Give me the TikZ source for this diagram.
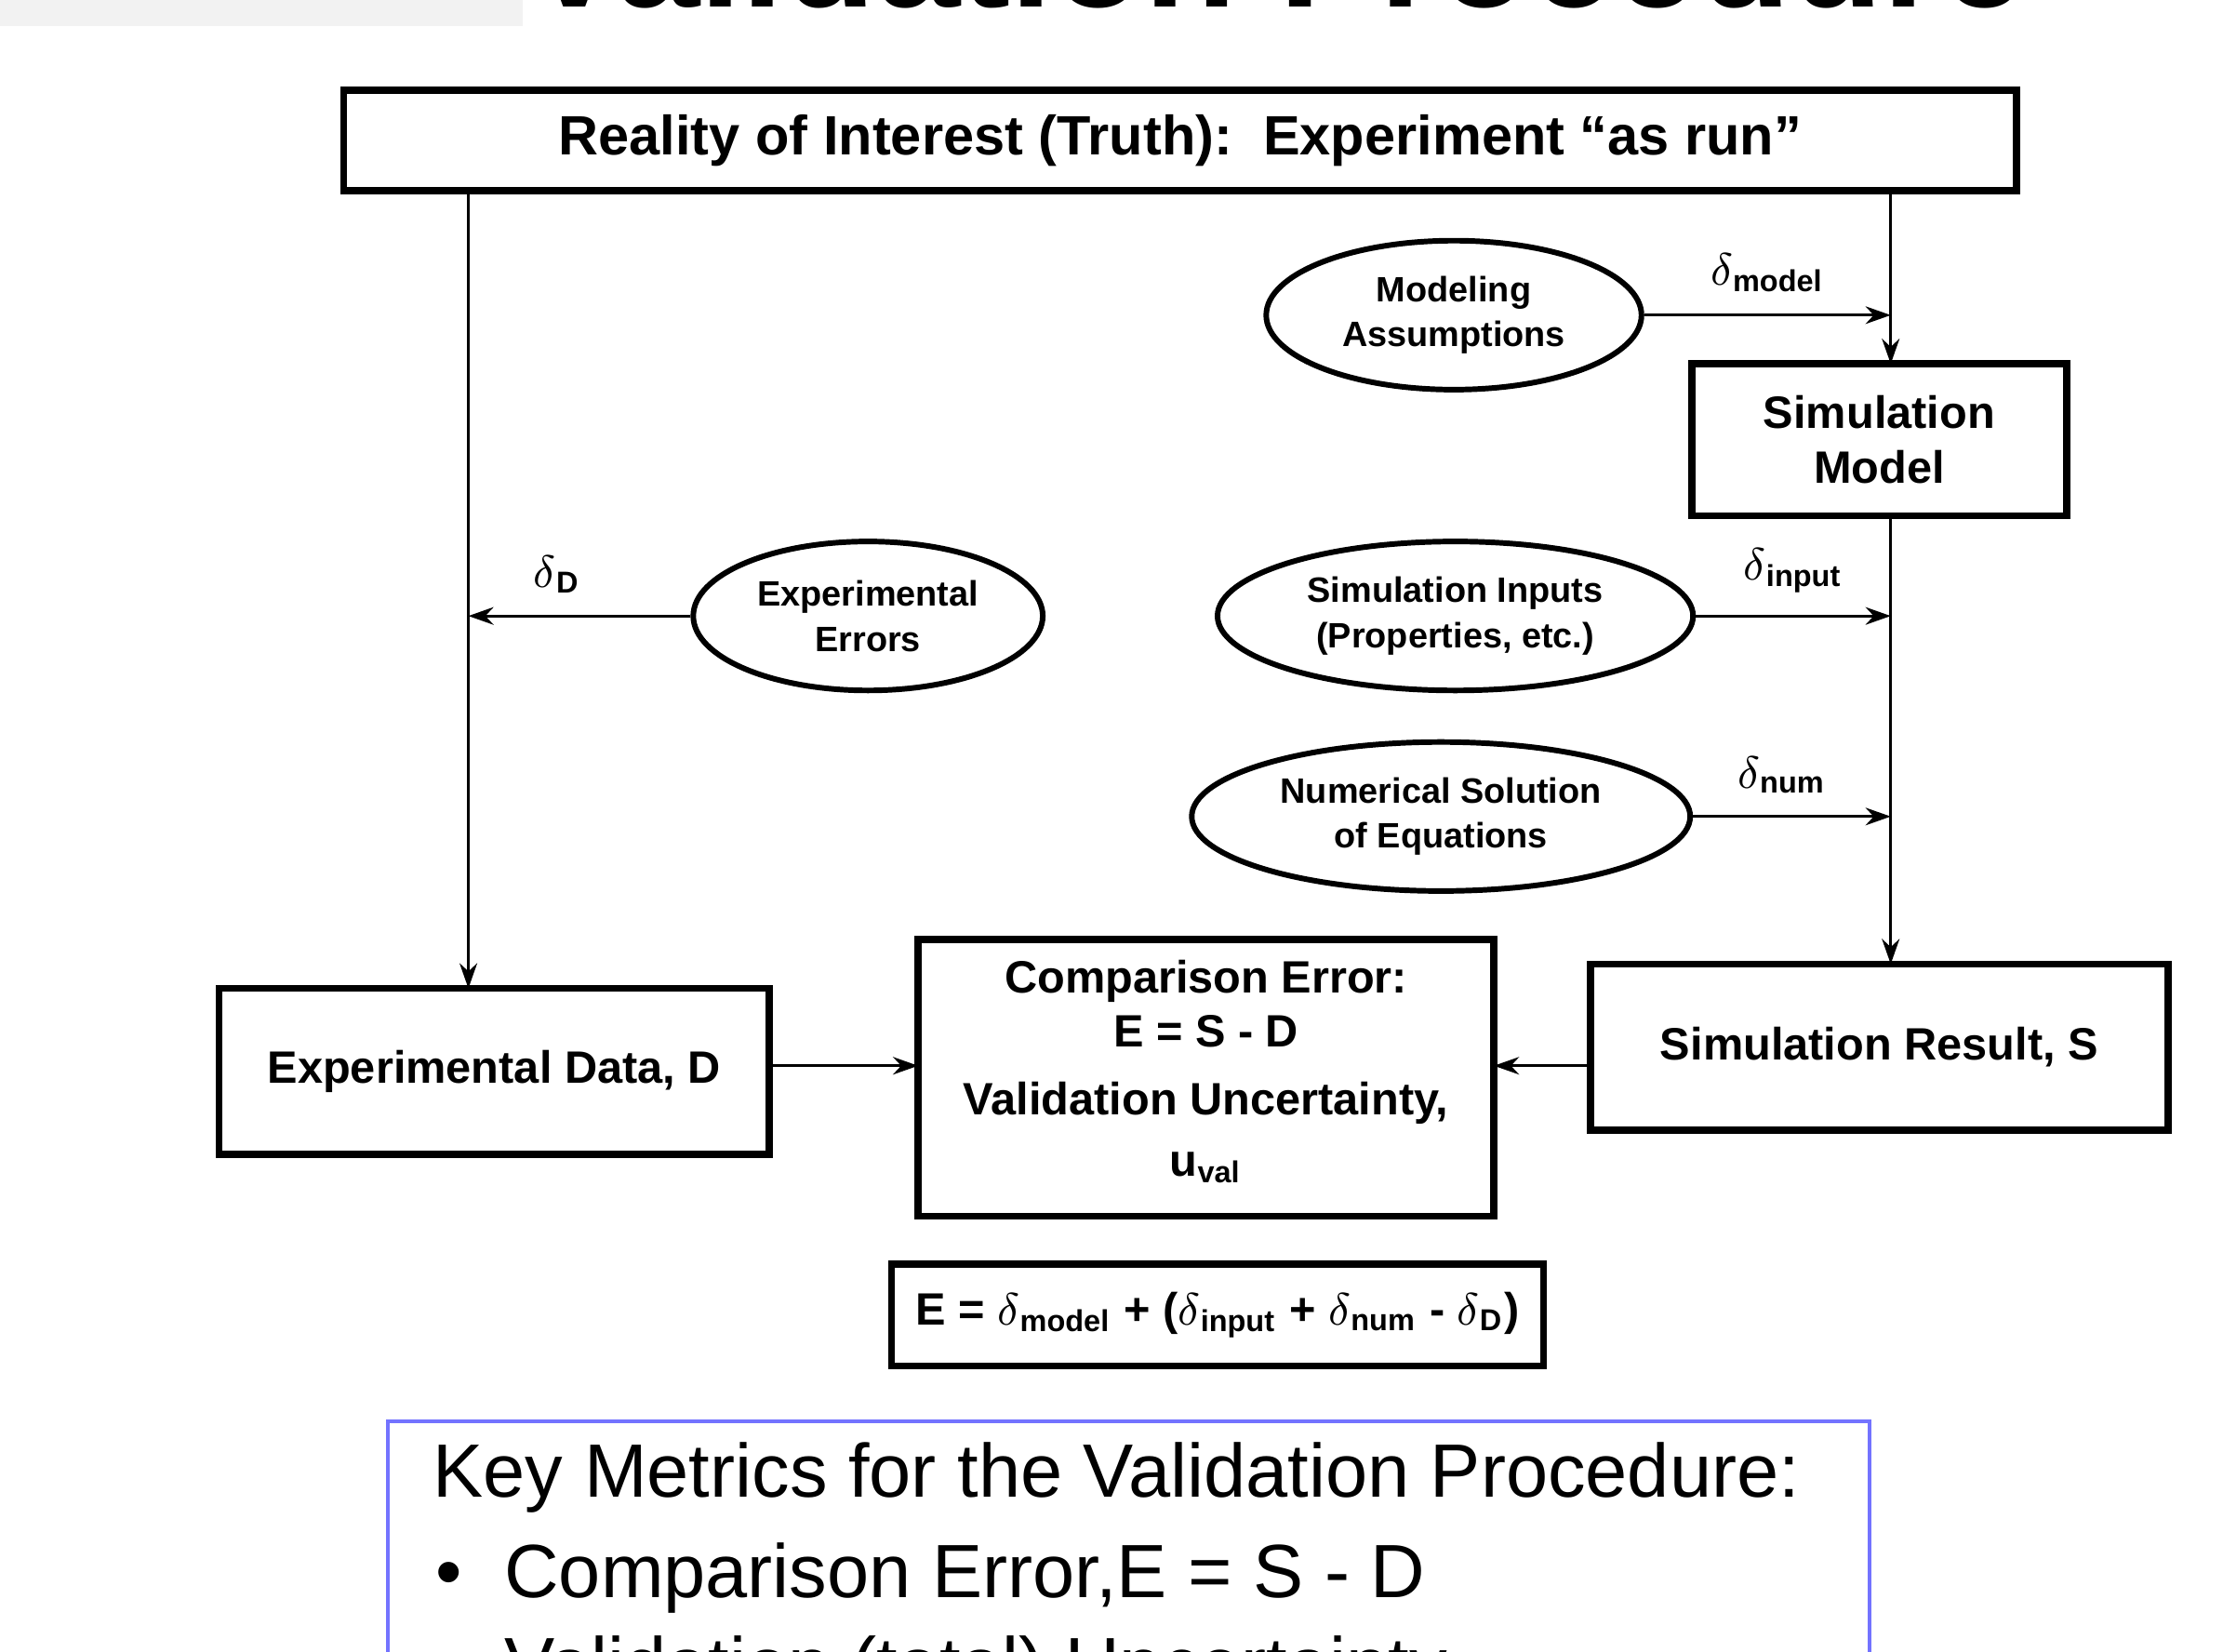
\documentclass[tikz,border=0pt]{standalone}
\usepackage{fontspec}
\setmainfont{Liberation Sans}
\usetikzlibrary{shapes.geometric,arrows.meta}
\begin{document}
\begin{tikzpicture}[x=0.1mm,y=-0.1mm,
 box/.style={draw,line width=1.4pt,inner sep=0pt,font=\bfseries\fontsize{9}{11}\selectfont,align=center},
 ell/.style={draw,ellipse,line width=1.1pt,inner sep=0pt,font=\bfseries\fontsize{7}{9}\selectfont,align=center},
 arr/.style={-{Stealth[length=5pt,width=3.5pt]},line width=0.5pt},
 lab/.style={font=\bfseries\fontsize{9}{10}\selectfont}]
\useasboundingbox (0,0) rectangle (1552,1153);
\clip (0,0) rectangle (1552,1153);
\fill[gray!10] (0,0) rectangle (365,18);
\node[font=\bfseries\fontsize{30}{30}\selectfont,anchor=base] (title) at (890,5) {Validation Procedure};
\node[box,minimum width=116.8mm,minimum height=7mm,font=\bfseries\fontsize{11}{13}\selectfont] (top) at (824,98) {Reality of Interest (Truth):\ \ Experiment “as run”};
\node[ell,minimum width=26.2mm,minimum height=10.4mm] (ma) at (1015,220) {Modeling\\Assumptions};
\node[box,minimum width=26.2mm,minimum height=10.6mm] (sm) at (1312,307) {Simulation\\Model};
\node[ell,minimum width=24.4mm,minimum height=10.4mm] (ee) at (606,430) {Experimental\\Errors};
\node[ell,minimum width=33.2mm,minimum height=10.4mm] (si) at (1016,430) {Simulation Inputs\\(Properties, etc.)};
\node[ell,minimum width=34.8mm,minimum height=10.4mm] (ns) at (1006,570) {Numerical Solution\\of Equations};
\node[box,minimum width=38.4mm,minimum height=11.6mm] (ed) at (345,748) {Experimental Data, D};
\node[box,minimum width=40.2mm,minimum height=19.3mm] (ce) at (842,752.5) {};
\node[lab] (c1) at (842,685) {Comparison Error:};
\node[lab] (c2) at (842,720) {E = S - D};
\node[lab] (c3) at (842,770) {Validation Uncertainty,};
\node[lab] (c4) at (842,815) {u\textsubscript{val}};
\node[box,minimum width=40.3mm,minimum height=11.6mm] (sr) at (1312,731) {Simulation Result, S};
\node[box,minimum width=45.5mm,minimum height=7.1mm,font=\bfseries\fontsize{9}{10}\selectfont] (eq) at (850,918) {E = $\mathrm{\delta}$\textsubscript{model} + ($\mathrm{\delta}$\textsubscript{input} + $\mathrm{\delta}$\textsubscript{num} - $\mathrm{\delta}$\textsubscript{D})};
\coordinate (tl) at (327,133);
\coordinate (tr) at (1320,133);
\coordinate (mr) at (1320,360);
\draw[arr] (tl) -- (327,690);
\draw[arr] (tr) -- (1320,254);
\draw[arr] (mr) -- (1320,673);
\draw[arr] (ma.east) -- (1320,220) node[lab,pos=0.5,above=1pt] {$\delta$\textsubscript{model}};
\draw[arr] (ee.west) -- (327,430) node[lab,pos=0.6,above=1pt] {$\delta$\textsubscript{D}};
\draw[arr] (si.east) -- (1320,430) node[lab,pos=0.5,above=1pt] {$\delta$\textsubscript{input}};
\draw[arr] (ns.east) -- (1320,570) node[lab,pos=0.45,above=1pt] {$\delta$\textsubscript{num}};
\draw[arr] (537,744) -- (641,744);
\draw[arr] (1111,744) -- (1043,744);
\draw[color=blue!55,line width=0.8pt] (271,1200) -- (271,992) -- (1305,992) -- (1305,1200);
\node[anchor=base west,font=\fontsize{15}{18}\selectfont] (k1) at (290,1045) {Key Metrics for the Validation Procedure:};
\node[anchor=base west,font=\fontsize{15}{18}\selectfont] (k2) at (292,1115) {•\ \ Comparison Error,E = S - D};
\node[anchor=base west,font=\fontsize{15}{18}\selectfont] (k3) at (292,1180) {•\ \ Validation (total) Uncertainty};
\end{tikzpicture}
\end{document}
